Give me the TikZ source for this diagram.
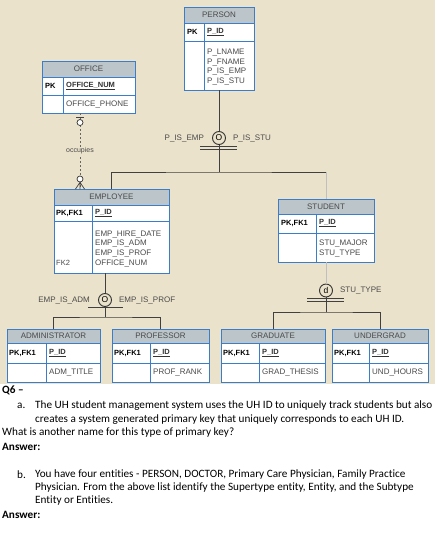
\documentclass[tikz,border=0pt]{standalone}
\usepackage{fontspec}
\setmainfont{Carlito}[Ligatures=NoCommon]
\newfontfamily\erfont{Liberation Sans}
\usetikzlibrary{fit}

\definecolor{bgbeige}{HTML}{EBE2CB}
\definecolor{hdrgray}{HTML}{BCC5CA}
\definecolor{entblue}{HTML}{3B7DC8}
\definecolor{ertext}{HTML}{4A4A4A}

\tikzset{
  box/.style={draw=entblue, line width=0.9pt, inner sep=0pt},
  rule/.style={draw=entblue, line width=0.7pt},
  title/.style={font=\erfont\fontsize{8}{9}\selectfont, text=ertext, inner sep=0pt},
  attr/.style={font=\erfont\fontsize{8}{9.6}\selectfont, text=ertext, inner sep=0pt, align=left, anchor=north west},
  keylbl/.style={font=\erfont\bfseries\fontsize{7.5}{8}\selectfont, inner sep=0pt, anchor=west},
  keyattr/.style={font=\erfont\bfseries\fontsize{7.5}{8}\selectfont, text=black!80, inner sep=0pt, anchor=west},
  link/.style={draw=black!75, line width=0.8pt},
  faintlink/.style={draw=black!25, line width=0.8pt},
  isa/.style={circle, draw=black!80, fill=bgbeige, line width=0.9pt, minimum size=13pt, inner sep=0pt, font=\erfont\fontsize{8.5}{8}\selectfont},
  rolelbl/.style={font=\erfont\fontsize{8}{8}\selectfont, text=ertext, inner sep=0pt},
  qtext/.style={font=\fontsize{11.2}{12}\selectfont, inner sep=0pt, anchor=west},
}

% entity box: name, left, top, right, divider, header bottom, key bottom, bottom, title
\newcommand{\entbox}[9]{%
  \coordinate (#1-nw) at (#2,#3);
  \coordinate (#1-se) at (#4,#8);
  \fill[white] (#1-nw) rectangle (#1-se);
  \fill[hdrgray] (#1-nw) rectangle (#4,#6);
  \draw[rule] (#2,#6) -- (#4,#6) (#2,#7) -- (#4,#7) (#5,#6) -- (#5,#8);
  \node[box, fit=(#1-nw)(#1-se)] (#1) {};
  \node[title] (#1-title) at ({(#2+#4)/2},{(#3+#6)/2}) {#9};
}

\begin{document}
\begin{tikzpicture}[x=1pt, y=-1pt]
    \useasboundingbox (0,0) rectangle (435,554);
    \fill[white] (0,0) rectangle (435,554);
    \fill[bgbeige] (0,0) rectangle (435,384);

    % Entities
    \entbox{person}{184}{7}{254}{204}{23}{41}{90}{PERSON}
    \entbox{office}{42}{61}{135}{63}{77}{95}{113}{OFFICE}
    \entbox{emp}{54}{189}{169}{92}{205}{221}{273}{EMPLOYEE}
    \entbox{stu}{278}{199}{374}{316}{214}{233}{262}{STUDENT}
    \entbox{adm}{7}{329}{100}{46}{343}{363}{382}{ADMINISTRATOR}
    \entbox{prof}{112}{329}{209}{150}{343}{363}{382}{PROFESSOR}
    \entbox{grad}{221}{329}{325}{259}{343}{363}{382}{GRADUATE}
    \entbox{ugrad}{332}{329}{428}{369}{343}{363}{382}{UNDERGRAD}

    % Keys and attributes
    \node[keylbl] (person-pk) at (187,32) {PK};
    \node[keyattr] (person-id) at (207,32) {\underline{P\_ID}};
    \node[attr] (person-at) at (207,49) {P\_LNAME\\P\_FNAME\\P\_IS\_EMP\\P\_IS\_STU};

    \node[keylbl] (office-pk) at (45,86) {PK};
    \node[keyattr] (office-id) at (66,86) {\underline{OFFICE\_NUM}};
    \node[attr] (office-at) at (66,101) {OFFICE\_PHONE};

    \node[keylbl] (emp-pk) at (56,213) {PK,FK1};
    \node[keyattr] (emp-id) at (95,213) {\underline{P\_ID}};
    \node[attr] (emp-at) at (95,230.5) {EMP\_HIRE\_DATE\\EMP\_IS\_ADM\\EMP\_IS\_PROF\\OFFICE\_NUM};
    \node[keylbl, font=\erfont\fontsize{7.5}{8}\selectfont, text=ertext] (emp-fk) at (56,263) {FK2};

    \node[keylbl] (stu-pk) at (281,223) {PK,FK1};
    \node[keyattr] (stu-id) at (319,223) {\underline{P\_ID}};
    \node[attr] (stu-at) at (319,240) {STU\_MAJOR\\STU\_TYPE};

    \node[keylbl] (adm-pk) at (9,353) {PK,FK1};
    \node[keyattr] (adm-id) at (49,353) {\underline{P\_ID}};
    \node[attr] (adm-at) at (49,369) {ADM\_TITLE};

    \node[keylbl] (prof-pk) at (114,353) {PK,FK1};
    \node[keyattr] (prof-id) at (153,353) {\underline{P\_ID}};
    \node[attr] (prof-at) at (153,369) {PROF\_RANK};

    \node[keylbl] (grad-pk) at (223,353) {PK,FK1};
    \node[keyattr] (grad-id) at (262,353) {\underline{P\_ID}};
    \node[attr] (grad-at) at (262,369) {GRAD\_THESIS};

    \node[keylbl] (ugrad-pk) at (334,353) {PK,FK1};
    \node[keyattr] (ugrad-id) at (372,353) {\underline{P\_ID}};
    \node[attr] (ugrad-at) at (372,369) {UND\_HOURS};

    % OFFICE -- EMPLOYEE relationship
    \coordinate (occx) at (80,0);
    \draw[black!60, line width=0.7pt, dash pattern=on 2pt off 2pt] (office.south -| occx) -- (emp.north -| occx);
    \node[rolelbl, fill=bgbeige, inner sep=1pt, font=\erfont\fontsize{7}{8}\selectfont] (occ) at (80,151) {occupies};
    \draw[link] (76,117) -- (84,117);
    \node[circle, draw=black!80, fill=white, line width=0.7pt, minimum size=6pt, inner sep=0pt] (occ-one) at (80,122.5) {};
    \node[circle, draw=black!80, fill=white, line width=0.7pt, minimum size=6pt, inner sep=0pt] (occ-many) at (80,179) {};
    \draw[link, line width=0.7pt] (occ-many.south) -- (75.5,189) (occ-many.south) -- (80,189) (occ-many.south) -- (84.5,189);

    % PERSON subtypes
    \node[isa] (pisa) at (219,138) {O};
    \node[rolelbl, anchor=east] (pemp) at ([xshift=-8pt]pisa.west) {P\_IS\_EMP};
    \node[rolelbl, anchor=west] (pstu) at ([xshift=7pt]pisa.east) {P\_IS\_STU};
    \draw[link] (person.south) -- (pisa);
    \draw[link] (200,146) -- (237,146) (200,149.5) -- (237,149.5);
    \coordinate (pj) at (219,172);
    \draw[link] (pisa) -- (pj);
    \draw[faintlink] (stu.north |- pj) -- (stu.north);
    \draw[link] (emp.north) |- (pj) -- (stu.north |- pj);

    % EMPLOYEE subtypes
    \node[isa] (eisa) at (105,300) {O};
    \node[rolelbl, anchor=east] (eadm) at ([xshift=-8pt]eisa.west) {EMP\_IS\_ADM};
    \node[rolelbl, anchor=west] (eprof) at ([xshift=7pt]eisa.east) {EMP\_IS\_PROF};
    \draw[link] (eisa |- emp.south) -- (eisa);
    \draw[link] (88,307) -- (123,307);
    \coordinate (ej) at (105,317);
    \draw[link] (eisa) -- (ej);
    \draw[link] (adm.north) |- (ej) -| (prof.north);

    % STUDENT subtypes
    \node[isa] (sisa) at (326,290.5) {d};
    \node[rolelbl, anchor=west] (stype) at ([xshift=7pt]sisa.east) {STU\_TYPE};
    \draw[faintlink] (stu.south) -- (sisa);
    \draw[link] (307,298) -- (344,298) (307,301) -- (344,301);
    \coordinate (sj) at (326,312);
    \draw[link] (sisa) -- (sj);
    \draw[link] (grad.north) |- (sj) -| (ugrad.north);

    % Question text
    \node[qtext, font=\bfseries\fontsize{11.2}{12}\selectfont] (q6) at (2,390) {Q6 –};
    \node[qtext] (qa) at (17,406) {a.};
    \node[qtext] (qa1) at (35,406) {The UH student management system uses the UH ID to uniquely track students but also};
    \node[qtext] (qa2) at (35,420) {creates a system generated primary key that uniquely corresponds to each UH ID.};
    \node[qtext] (qa3) at (2,433) {What is another name for this type of primary key?};
    \node[qtext, font=\bfseries\fontsize{11.2}{12}\selectfont] (ansa) at (2,447) {Answer:};
    \node[qtext] (qb) at (17,475) {b.};
    \node[qtext] (qb1) at (35,475) {You have four entities - PERSON, DOCTOR, Primary Care Physician, Family Practice};
    \node[qtext] (qb2) at (35,488) {Physician. From the above list identify the Supertype entity, Entity, and the Subtype};
    \node[qtext] (qb3) at (35,501) {Entity or Entities.};
    \node[qtext, font=\bfseries\fontsize{11.2}{12}\selectfont] (ansb) at (2,515) {Answer:};
\end{tikzpicture}
\end{document}
